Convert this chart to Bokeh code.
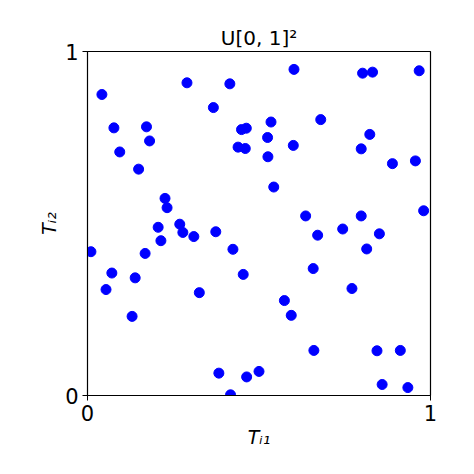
from bokeh.plotting import figure
from bokeh.models import FixedTicker
from bokeh.embed import file_html
from bokeh.resources import INLINE

# Data (uniform sample on the unit square)
t1 = [0.010, 0.042, 0.054, 0.071, 0.077, 0.094, 0.130, 0.139, 0.149, 0.168,
      0.172, 0.181, 0.206, 0.214, 0.226, 0.232, 0.269, 0.278, 0.290, 0.310,
      0.326, 0.367, 0.374, 0.383, 0.415, 0.417, 0.424, 0.439, 0.449, 0.463,
      0.460, 0.454, 0.464, 0.500, 0.525, 0.535, 0.526, 0.543, 0.574, 0.594,
      0.602, 0.600, 0.636, 0.658, 0.660, 0.671, 0.680, 0.744, 0.771, 0.798,
      0.798, 0.802, 0.814, 0.823, 0.831, 0.844, 0.851, 0.859, 0.889, 0.912,
      0.934, 0.956, 0.967, 0.980]
t2 = [0.418, 0.875, 0.308, 0.356, 0.778, 0.708, 0.230, 0.342, 0.658, 0.413,
      0.781, 0.740, 0.489, 0.450, 0.573, 0.546, 0.498, 0.474, 0.909, 0.462,
      0.299, 0.837, 0.476, 0.065, 0.906, 0.002, 0.425, 0.722, 0.773, 0.777,
      0.718, 0.352, 0.054, 0.070, 0.750, 0.795, 0.694, 0.606, 0.276, 0.233,
      0.948, 0.727, 0.522, 0.369, 0.131, 0.466, 0.802, 0.484, 0.311, 0.522,
      0.717, 0.937, 0.426, 0.759, 0.940, 0.130, 0.470, 0.032, 0.674, 0.131,
      0.023, 0.682, 0.944, 0.537]

title_text = "U[0, 1]²"
x_label = "Tᵢ₁"
y_label = "Tᵢ₂"
ticks = [0, 1]

FONT = "DejaVu Sans"

p = figure(frame_width=343, frame_height=344, x_range=(0, 1), y_range=(0, 1),
           output_backend="svg", toolbar_location=None,
           min_border_left=87, min_border_top=51, min_border_right=36,
           min_border_bottom=71, background_fill_color="white",
           border_fill_color="white")

p.scatter(t1, t2, size=10, color="#0000ff", line_color="#0000ff")

p.xgrid.visible = False
p.ygrid.visible = False
p.outline_line_color = "black"
p.outline_line_width = 1.2
p.outline_line_alpha = 1.0

for ax in (p.xaxis[0], p.yaxis[0]):
    ax.ticker = FixedTicker(ticks=ticks)
    ax.major_tick_in = 0
    ax.major_tick_out = 5
    ax.minor_tick_line_color = None
    ax.axis_line_color = "black"
    ax.major_tick_line_color = "black"
    ax.major_label_text_font = FONT
    ax.major_label_text_font_size = "21px"
    ax.major_label_text_color = "black"
    ax.axis_label_text_font = FONT
    ax.axis_label_text_font_size = "19px"
    ax.axis_label_text_font_style = "italic"
    ax.axis_label_text_color = "black"
    ax.major_label_standoff = 4
    ax.axis_label_standoff = 2

p.xaxis.axis_label = x_label
p.yaxis.axis_label = y_label
p.yaxis.major_label_orientation = "horizontal"

p.title.text = title_text
p.title.align = "center"
p.title.text_font = FONT
p.title.text_font_size = "20px"
p.title.text_font_style = "normal"
p.title.text_color = "black"
p.title.standoff = 4

open("out.html", "w").write(file_html(p, INLINE))
